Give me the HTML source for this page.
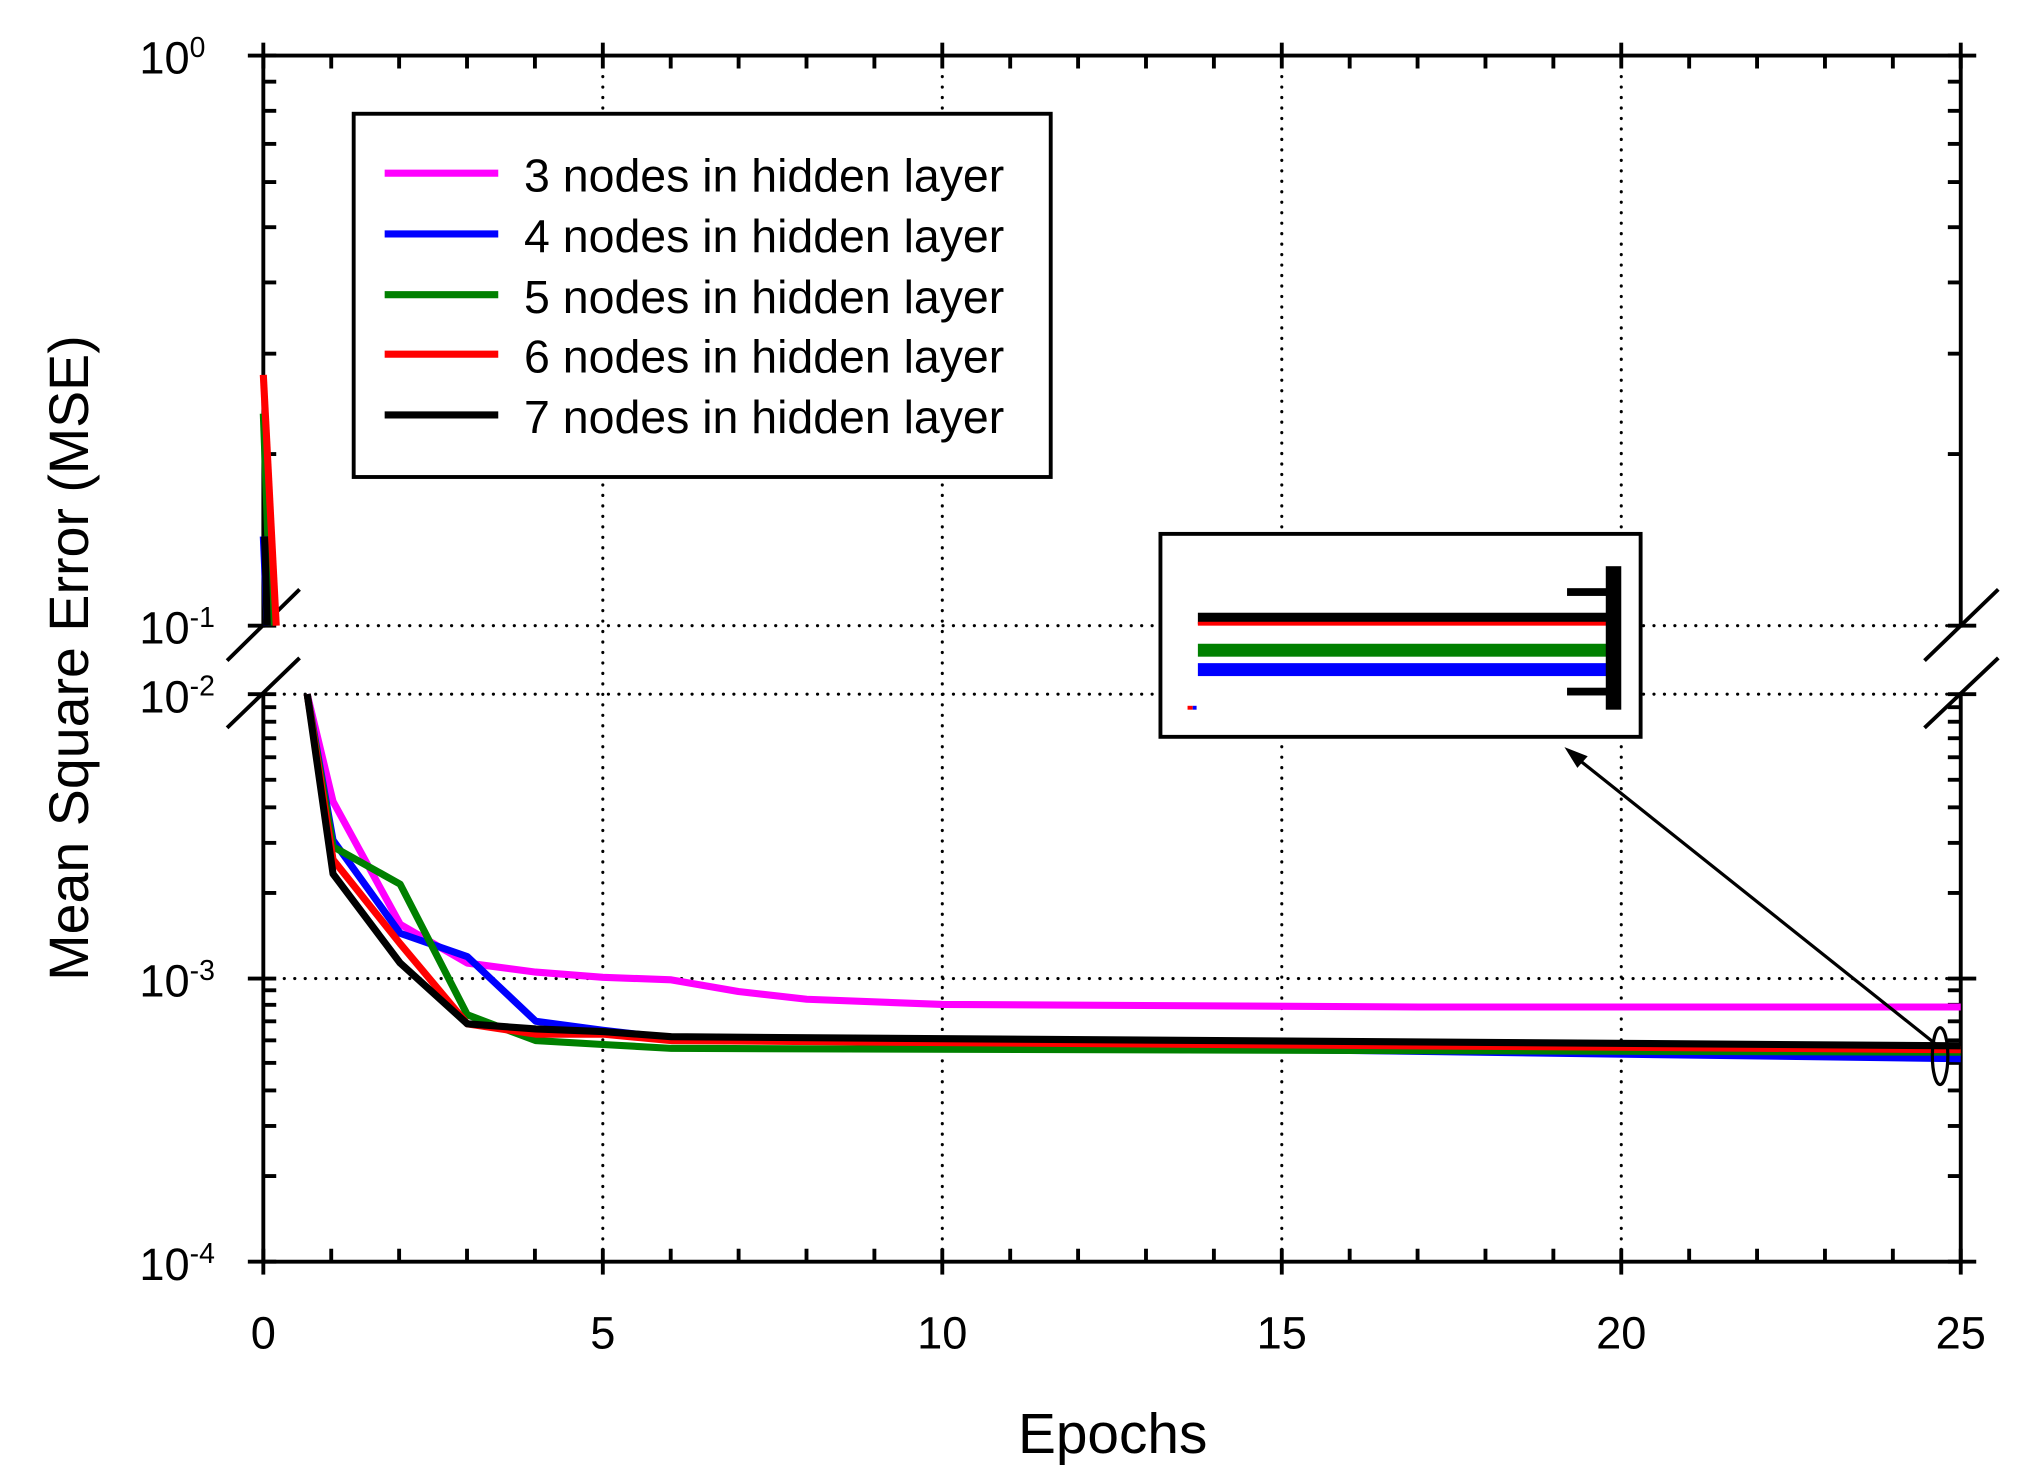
<!DOCTYPE html>
<html><head><meta charset="utf-8"><style>
html,body{margin:0;padding:0;background:#fff;width:2024px;height:1484px;overflow:hidden}
svg{display:block}
text{font-family:"Liberation Sans",Arial,sans-serif;fill:#000}
</style></head><body>
<svg id="s" width="2024" height="1484" viewBox="0 0 1568 1148" preserveAspectRatio="none" xmlns="http://www.w3.org/2000/svg">
<g id="ticks" stroke="#000" stroke-width="3" fill="none"></g>
<g id="grid" stroke="#000" stroke-width="2.4" stroke-dasharray="0.1 8" stroke-linecap="round" fill="none">
<line x1="467" y1="43" x2="467" y2="976"/>
<line x1="730" y1="43" x2="730" y2="976"/>
<line x1="993" y1="43" x2="993" y2="976"/>
<line x1="1256" y1="43" x2="1256" y2="976"/>
<line x1="204" y1="484" x2="1519" y2="484"/>
<line x1="204" y1="537" x2="1519" y2="537"/>
<line x1="204" y1="757" x2="1519" y2="757"/>
</g>
<g stroke="#000" stroke-width="3" fill="none" stroke-linecap="square">
<line x1="204" y1="43" x2="1519" y2="43"/>
<line x1="204" y1="976" x2="1519" y2="976"/>
<line x1="204" y1="43" x2="204" y2="484"/>
<line x1="204" y1="537" x2="204" y2="976"/>
<line x1="1519" y1="43" x2="1519" y2="484"/>
<line x1="1519" y1="537" x2="1519" y2="976"/>
<line x1="177" y1="510" x2="231" y2="457"/>
<line x1="177" y1="562" x2="231" y2="510"/>
<line x1="1492" y1="510" x2="1547" y2="457"/>
<line x1="1492" y1="562" x2="1547" y2="510"/>
</g>
<g fill="none" stroke-width="5.5" stroke-linejoin="round">
<polyline stroke="#ff00ff" points="238,537 258,620 310,715 362,745 415,752 467,756 520,758 572,767 625,773 730,777 1100,779 1519,779"/>
<polyline stroke="#0000ff" points="238,537 258,650 310,722 362,740 415,790 467,797 520,803 1000,812 1519,819"/>
<polyline stroke="#008000" points="238,537 258,655 310,684 362,785 415,805 467,808 520,811 1519,814"/>
<polyline stroke="#ff0000" points="238,537 258,665 310,730 362,792 415,800 467,800 520,805 1519,812"/>
<polyline stroke="#000000" points="238,537 258,676 310,745 362,792 415,796 467,798 520,802 1519,809"/>
<line stroke="#008000" x1="204" y1="320" x2="210" y2="484"/>
<line stroke="#0000ff" x1="204" y1="415" x2="207" y2="484"/>
<line stroke="#000" x1="205" y1="415" x2="207" y2="484"/>
<line stroke="#ff0000" x1="204" y1="290" x2="214" y2="484"/>
</g>
<ellipse cx="1503" cy="817" rx="6" ry="22" fill="none" stroke="#000" stroke-width="2.5"/>
<line x1="1500" y1="808" x2="1216" y2="582" stroke="#000" stroke-width="2.5"/>
<polygon points="1212,578 1230,585 1222,594" fill="#000"/>
<rect x="899" y="413" width="372" height="157" fill="#fff" stroke="#000" stroke-width="3"/>
<g>
<rect x="928" y="474" width="320" height="9" fill="#000"/>
<rect x="928" y="481" width="325" height="3" fill="#ff0000"/>
<rect x="928" y="498" width="325" height="10" fill="#008000"/>
<rect x="928" y="513" width="325" height="10" fill="#0000ff"/>
<rect x="1244" y="438" width="12" height="111" fill="#000"/>
<rect x="1214" y="455" width="32" height="6" fill="#000"/>
<rect x="1214" y="532" width="32" height="6" fill="#000"/>
<rect x="920" y="546" width="4" height="3" fill="#ff0000"/>
<rect x="924" y="546" width="3" height="3" fill="#0000ff"/>
</g>
<rect x="274" y="88" width="540" height="281" fill="#fff" stroke="#000" stroke-width="3"/>
<g stroke-width="5.5">
<line x1="298" y1="134" x2="386" y2="134" stroke="#ff00ff"/>
<line x1="298" y1="181" x2="386" y2="181" stroke="#0000ff"/>
<line x1="298" y1="228" x2="386" y2="228" stroke="#008000"/>
<line x1="298" y1="274" x2="386" y2="274" stroke="#ff0000"/>
<line x1="298" y1="321" x2="386" y2="321" stroke="#000"/>
</g>
<g font-size="36" textLength="372">
<text x="406" y="148" textLength="372">3 nodes in hidden layer</text>
<text x="406" y="195" textLength="372">4 nodes in hidden layer</text>
<text x="406" y="242" textLength="372">5 nodes in hidden layer</text>
<text x="406" y="288" textLength="372">6 nodes in hidden layer</text>
<text x="406" y="335" textLength="372">7 nodes in hidden layer</text>
</g>
<g font-size="35" text-anchor="middle">
<text x="204" y="1043">0</text><text x="467" y="1043">5</text><text x="730" y="1043">10</text>
<text x="993" y="1043">15</text><text x="1256" y="1043">20</text><text x="1519" y="1043">25</text>
</g>
<g font-size="35">
<text x="108" y="57">10<tspan font-size="22" dy="-13">0</tspan></text>
<text x="108" y="498">10<tspan font-size="22" dy="-13">-1</tspan></text>
<text x="108" y="551">10<tspan font-size="22" dy="-13">-2</tspan></text>
<text x="108" y="771">10<tspan font-size="22" dy="-13">-3</tspan></text>
<text x="108" y="990">10<tspan font-size="22" dy="-13">-4</tspan></text>
</g>
<text x="862" y="1124" font-size="44" text-anchor="middle">Epochs</text>
<text transform="translate(68,509) rotate(-90)" font-size="43" text-anchor="middle">Mean Square Error (MSE)</text>
</svg>
<script>
var g=document.getElementById('ticks'),s='';
function L(a,b,c,d){s+='<line x1="'+a+'" y1="'+b+'" x2="'+c+'" y2="'+d+'"/>';}
for(var i=0;i<=25;i++){var x=204+i*52.6;var maj=i%5==0;
 L(x,976,x,maj?986:966);L(x,43,x,maj?33:53);
 if(maj){L(x,976,x,966);L(x,43,x,53);}}
function yt(y,maj){L(204,y,maj?192:214,y);L(1519,y,1509,y);if(maj){L(204,y,214,y);L(1519,y,1531,y);}}
yt(43,1);yt(484,1);yt(537,1);yt(757,1);yt(976,1);
for(var k=2;k<=9;k++){var l=Math.log10(k);
 yt(484-441*l,0);yt(757-220*l,0);yt(976-220*l,0);}
g.innerHTML=s;
</script>
</body></html>
